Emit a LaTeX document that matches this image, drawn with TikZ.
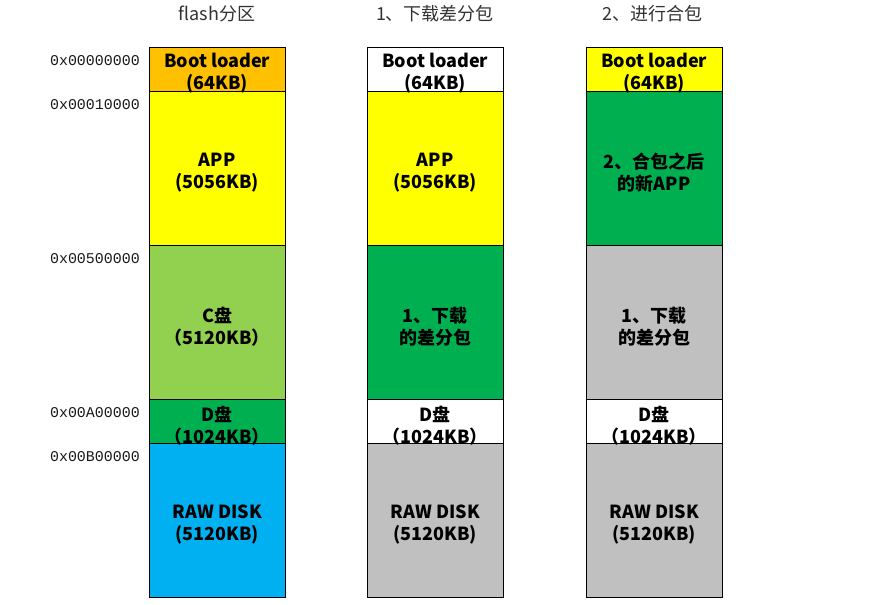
\documentclass[tikz,border=0pt]{standalone}
\usepackage{fontspec}
\newfontfamily\cjk{Noto Sans CJK SC}
\newfontfamily\addrfont{Liberation Mono}
\definecolor{bootorange}{HTML}{FFC000}
\definecolor{appyellow}{HTML}{FFFF00}
\definecolor{cgreen}{HTML}{92D050}
\definecolor{dgreen}{HTML}{00B050}
\definecolor{rawblue}{HTML}{00B0F0}
\definecolor{diffgray}{HTML}{C0C0C0}
\pgfdeclarelayer{background}
\pgfsetlayers{background,main}
\tikzset{
    part/.style={draw=black,thin,anchor=north west,minimum width=102pt,inner sep=0pt},
    parthigh/.style={part,minimum height=115.5pt},
    partlow/.style={part,minimum height=33pt},
    parttext/.style={inner sep=0pt,align=center,font=\cjk\bfseries\fontsize{13.5}{16.5}\selectfont},
    addrlabel/.style={anchor=east,inner sep=0pt,font=\addrfont\fontsize{11.2}{13}\selectfont,text=black!90},
    coltitle/.style={font=\cjk\fontsize{13.5}{16}\selectfont,text=black!80}
}
% #1 name, #2 left x, #3 top y, #4 style, #5 fill, #6 text
\newcommand{\PlaceBlock}[6]{%
    \begin{pgfonlayer}{background}
        \node[#4,fill=#5] (#1) at (#2,#3) {};
    \end{pgfonlayer}
    \node[parttext] (#1text) at ([yshift=-3pt]#1.center) {#6};%
}

\begin{document}
\begin{tikzpicture}[x=0.75pt,y=-0.75pt]
    \useasboundingbox (0,0) rectangle (871,604);

    % column titles
    \node[coltitle] (title1) at (217,14) {flash分区};
    \node[coltitle] (title2) at (435,14) {1、下载差分包};
    \node[coltitle] (title3) at (652,14) {2、进行合包};

    % start addresses
    \foreach \y/\addr in {47/0x00000000,91/0x00010000,245/0x00500000,399/0x00A00000,443/0x00B00000} {
        \node[addrlabel] (addr\y) at (140,{\y+14}) {\addr};
    }

    % flash partitions
    \PlaceBlock{boot1}{149}{47}{partlow}{bootorange}{Boot loader\\(64KB)}
    \PlaceBlock{app1}{149}{91}{parthigh}{appyellow}{APP\\(5056KB)}
    \PlaceBlock{c1}{149}{245}{parthigh}{cgreen}{C盘\\（5120KB）}
    \PlaceBlock{d1}{149}{399}{partlow}{dgreen}{D盘\\（1024KB）}
    \PlaceBlock{raw1}{149}{443}{parthigh}{rawblue}{RAW DISK\\(5120KB)}

    % step 1: download the diff package
    \PlaceBlock{boot2}{367}{47}{partlow}{white}{Boot loader\\(64KB)}
    \PlaceBlock{app2}{367}{91}{parthigh}{appyellow}{APP\\(5056KB)}
    \PlaceBlock{c2}{367}{245}{parthigh}{dgreen}{1、下载\\的差分包}
    \PlaceBlock{d2}{367}{399}{partlow}{white}{D盘\\（1024KB）}
    \PlaceBlock{raw2}{367}{443}{parthigh}{diffgray}{RAW DISK\\(5120KB)}

    % step 2: merge
    \PlaceBlock{boot3}{586}{47}{partlow}{appyellow}{Boot loader\\(64KB)}
    \PlaceBlock{app3}{586}{91}{parthigh}{dgreen}{2、合包之后\\的新APP}
    \PlaceBlock{c3}{586}{245}{parthigh}{diffgray}{1、下载\\的差分包}
    \PlaceBlock{d3}{586}{399}{partlow}{white}{D盘\\（1024KB）}
    \PlaceBlock{raw3}{586}{443}{parthigh}{diffgray}{RAW DISK\\(5120KB)}
\end{tikzpicture}
\end{document}
